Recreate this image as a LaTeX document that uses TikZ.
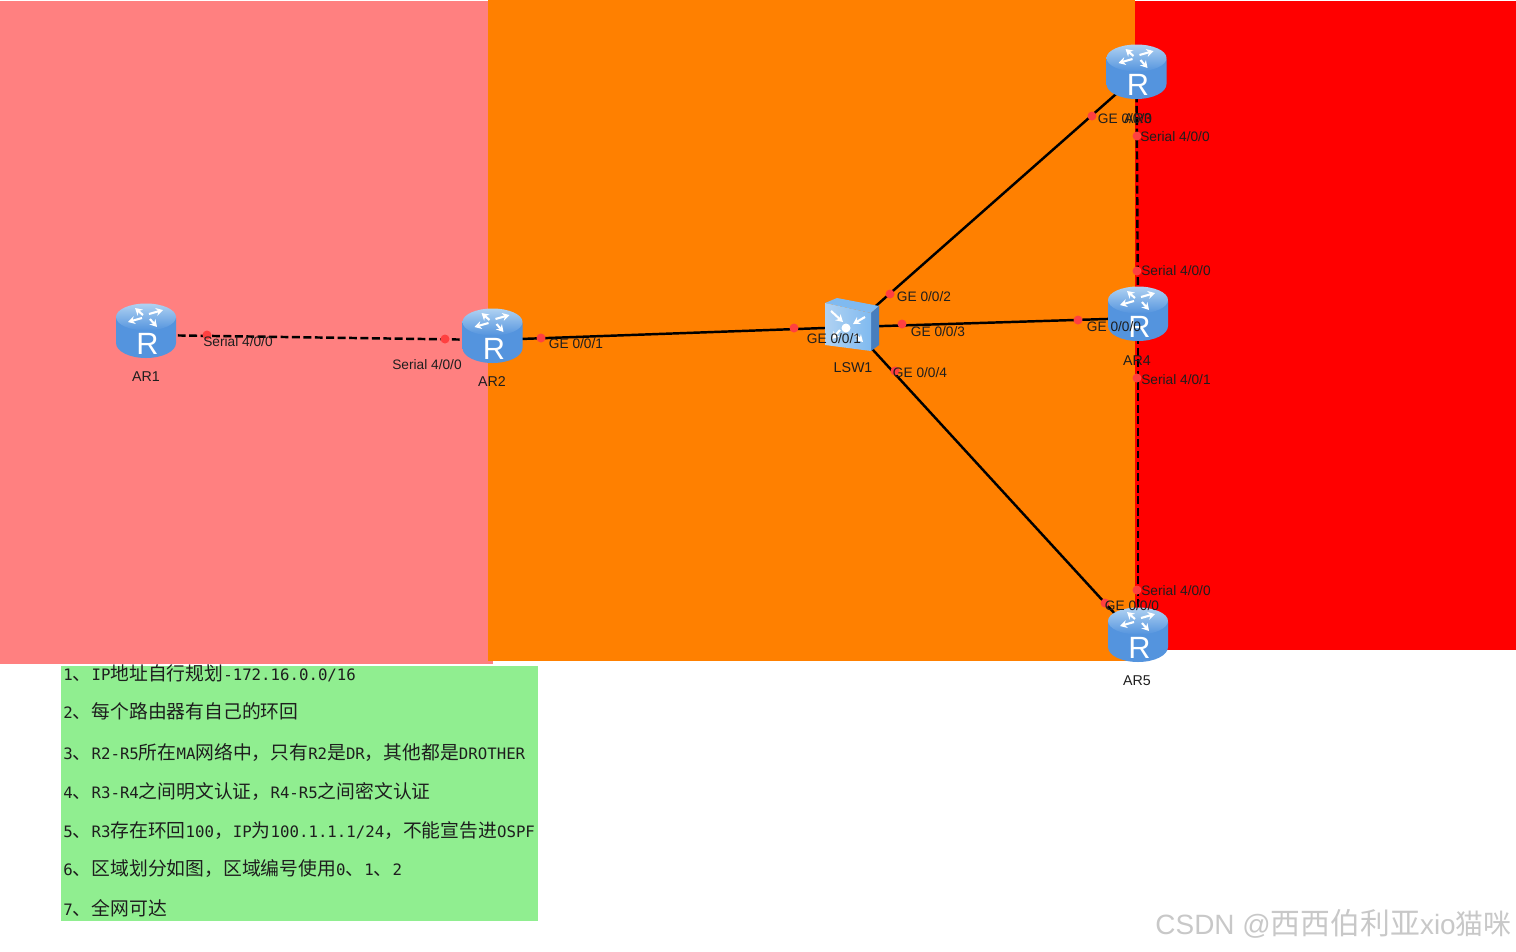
\documentclass[tikz,border=0pt]{standalone}
\usepackage{fontspec}
\usepackage{xcolor}
\usepackage{tikz}
\usetikzlibrary{arrows.meta}
\setmainfont{Liberation Sans}
\setmonofont{DejaVu Sans Mono}
\newfontfamily\cjk{Noto Sans CJK SC}
\newcommand{\cn}[1]{{\fontsize{10.7}{12}\cjk #1}}
\definecolor{areapink}{RGB}{255, 128, 128}
\definecolor{areaorange}{RGB}{255, 128, 0}
\definecolor{areared}{RGB}{255, 0, 0}
\definecolor{notegreen}{RGB}{144, 238, 144}
\definecolor{portred}{RGB}{255, 64, 64}
\definecolor{labelgrey}{RGB}{30, 30, 30}
\definecolor{marksilver}{RGB}{200, 200, 200}
\definecolor{iconedge}{RGB}{84, 148, 222}
\definecolor{iconmid}{RGB}{128, 186, 240}
\definecolor{iconlight}{RGB}{176, 210, 242}

\begin{document}
\begin{tikzpicture}[
    x=0.02cm, y=-0.02cm,
    area/.style={draw=none},
    devbox/.style={rectangle, inner sep=0pt, minimum width=40*0.02cm, minimum height=36*0.02cm},
    swbox/.style={rectangle, inner sep=0pt, minimum width=36*0.02cm, minimum height=30*0.02cm},
    port/.style={circle, fill=portred, inner sep=0pt, minimum size=9*0.02cm},
    portlabel/.style={inner sep=0pt, text=labelgrey, font=\fontsize{7.8}{9}\selectfont},
    devlabel/.style={inner sep=0pt, text=labelgrey, font=\fontsize{8.1}{10}\selectfont},
    noteline/.style={anchor=base west, inner sep=0pt, text=labelgrey, font=\fontsize{8.95}{12}\ttfamily},
    eth/.style={line width=1.4pt, black},
    serial/.style={eth, dash pattern=on 4.5pt off 2pt},
    glyph/.style={white, line width=1.2pt, -{Stealth[length=4pt,width=4.6pt]}},
    router/.pic={
        \path[left color=iconedge, middle color=iconmid, right color=iconedge]
            (-30,-17) -- (-30,8) arc[start angle=180, end angle=0, x radius=30, y radius=15] -- (30,-17) -- cycle;
        \path[top color=iconlight, bottom color=iconedge] (0,-18) ellipse[x radius=30, y radius=13.5];
        \draw[glyph] (-3,-20) -- (-11,-27);
        \draw[glyph] (3,-21) -- (17,-25);
        \draw[glyph] (-4,-17) -- (-18,-13);
        \draw[glyph] (4,-16) -- (11,-8);
        \node[inner sep=0pt, text=white, font=\fontsize{17.5}{18}\selectfont] at (1.5,9) {R};
    },
    switch/.pic={
        \fill[iconmid] (-27,-24) -- (-15,-29) -- (27,-21) -- (19,-14) -- cycle;
        \fill[iconedge!85!black] (19,-14) -- (27,-21) -- (27,18) -- (19,24) -- cycle;
        \path[left color=iconlight, right color=iconmid] (-27,-24) -- (19,-14) -- (19,24) -- (-27,18) -- cycle;
        \fill[white] (-6,1) circle[radius=4.5];
        \draw[glyph] (-21,-16) -- (-9,-5);
        \draw[glyph] (13,-10) -- (1,-3);
        \draw[glyph] (-12,3) -- (-20,12);
        \draw[glyph] (3,7) -- (11,15);
    }
]
    \useasboundingbox (0,0) rectangle (1516,951);

    % areas
    \fill[areapink, area] (0,1) rectangle (493,664);
    \fill[areared, area] (1134,1) rectangle (1516,650);
    \fill[areaorange, area] (488,0) rectangle (1135,660.5);
    \fill[notegreen, area] (61,666) rectangle (538,921);

    % devices
    \node[devbox] (ar1) at (146,335) {};
    \node[devbox] (ar2) at (492.5,340) {};
    \node[devbox] (ar3) at (1136.5,76) {};
    \node[devbox] (ar4) at (1138,318) {};
    \node[devbox] (ar5) at (1138,639) {};
    \node[swbox] (lsw1) at (852,327) {};

    % links
    \draw[serial] (ar1) -- (ar2);
    \draw[eth] (ar2) -- (lsw1);
    \draw[eth] (lsw1) -- (ar3);
    \draw[eth] (lsw1) -- (ar4);
    \draw[eth] (lsw1) -- (ar5);
    \draw[serial] (ar3) -- (ar4);
    \draw[serial] (ar4) -- (ar5);

    \pic at (ar1) {router};
    \pic at (ar2) {router};
    \pic at (ar3) {router};
    \pic at (ar4) {router};
    \pic at (ar5) {router};
    \pic at (lsw1) {switch};

    % ports
    \node[port] (p1) at (207,335) {};
    \node[port] (p2) at (445,339) {};
    \node[port] (p3) at (541,338) {};
    \node[port] (p4) at (794,328) {};
    \node[port] (p5) at (890,294) {};
    \node[port] (p6) at (902,324) {};
    \node[port] (p7) at (895,371) {};
    \node[port] (p8) at (1078,320) {};
    \node[port] (p9) at (1092,116) {};
    \node[port] (p10) at (1137,136) {};
    \node[port] (p11) at (1137,271) {};
    \node[port] (p12) at (1137,378) {};
    \node[port] (p13) at (1137,590) {};
    \node[port] (p14) at (1105,603) {};

    \node[portlabel] (t1) at (238,342) {Serial 4/0/0};
    \node[portlabel] (t2) at (427,365) {Serial 4/0/0};
    \node[portlabel] (t3) at (576,344) {GE 0/0/1};
    \node[portlabel] (t4) at (834,339) {GE 0/0/1};
    \node[portlabel] (t5) at (924,297) {GE 0/0/2};
    \node[portlabel] (t6) at (938,332) {GE 0/0/3};
    \node[portlabel] (t7) at (920,373) {GE 0/0/4};
    \node[portlabel] (t8) at (1114,327) {GE 0/0/0};
    \node[portlabel] (t9) at (1125,119) {GE 0/0/0};
    \node[portlabel] (t10) at (1175,137) {Serial 4/0/0};
    \node[portlabel] (t11) at (1176,271) {Serial 4/0/0};
    \node[portlabel] (t12) at (1176,380) {Serial 4/0/1};
    \node[portlabel] (t13) at (1176,591) {Serial 4/0/0};
    \node[portlabel] (t14) at (1132,606) {GE 0/0/0};

    \node[devlabel] (n1) at (146,377) {AR1};
    \node[devlabel] (n2) at (492,382) {AR2};
    \node[devlabel] (n3) at (1138,119) {AR3};
    \node[devlabel] (n4) at (1137,361) {AR4};
    \node[devlabel] (n5) at (1137,681) {AR5};
    \node[devlabel] (n6) at (853,368) {LSW1};

    % task list
    \node[noteline] (note1) at (63,680) {1\cn{、}IP\cn{地址自行规划}-172.16.0.0/16};
    \node[noteline] (note2) at (63,718) {2\cn{、每个路由器有自己的环回}};
    \node[noteline] (note3) at (63,759) {3\cn{、}R2-R5\cn{所在}MA\cn{网络中，只有}R2\cn{是}DR\cn{，其他都是}DROTHER};
    \node[noteline] (note4) at (63,798) {4\cn{、}R3-R4\cn{之间明文认证，}R4-R5\cn{之间密文认证}};
    \node[noteline] (note5) at (63,837) {5\cn{、}R3\cn{存在环回}100\cn{，}IP\cn{为}100.1.1.1/24\cn{，不能宣告进}OSPF};
    \node[noteline] (note6) at (63,875) {6\cn{、区域划分如图，区域编号使用}0\cn{、}1\cn{、}2};
    \node[noteline] (note7) at (63,915) {7\cn{、全网可达}};

    \node[anchor=base east, inner sep=0pt, text=marksilver, font=\fontsize{15.9}{18}\selectfont] (mark) at (1512,934) {CSDN @{\fontsize{17}{18}\cjk 西西伯利亚}xio{\cjk 猫咪}};
\end{tikzpicture}
\end{document}
